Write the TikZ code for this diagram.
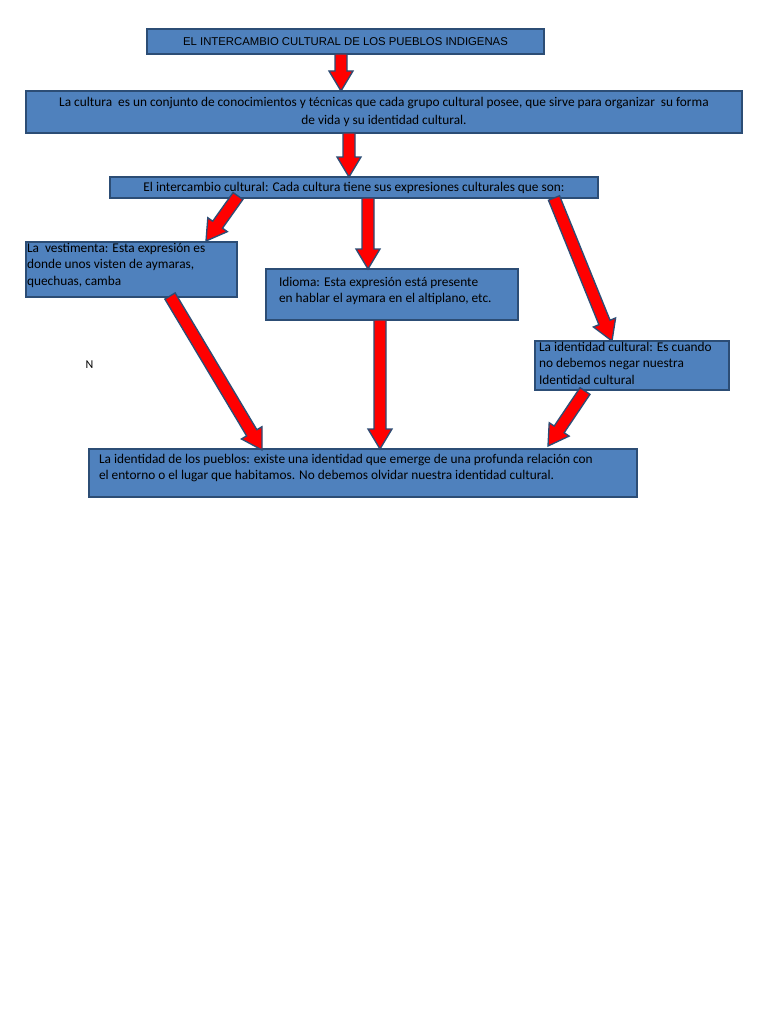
\documentclass[tikz,border=0pt]{standalone}
\usepackage{fontspec}
\setmainfont{Carlito}
\newfontfamily\titlefont{Liberation Sans}
\usetikzlibrary{calc}
\definecolor{boxfill}{HTML}{4F81BD}
\definecolor{boxline}{HTML}{2C4D75}
\tikzset{
 box/.style={draw=boxline,line width=1.5pt,fill=boxfill,inner sep=0pt},
 lbl/.style={font=\fontsize{10}{12.5}\selectfont,text=black,anchor=north west,align=left},
}
\newcommand{\fatarrow}[2]{%
 \path let \p1=(#1),\p2=(#2) in coordinate (fa) at (\p1) coordinate (fb) at (\p2);
 \coordinate (fh) at ($(fb)!15pt!(fa)$);
 \filldraw[fill=red,draw=boxline,line width=1pt,line join=miter]
 ($(fa)!4.5pt!90:(fb)$) -- ($(fh)!4.5pt!-90:(fa)$) -- ($(fh)!9pt!-90:(fa)$) -- (fb)
 -- ($(fh)!9pt!90:(fa)$) -- ($(fh)!4.5pt!90:(fa)$) -- ($(fa)!4.5pt!-90:(fb)$) -- cycle;}
\begin{document}
\begin{tikzpicture}[x=0.75pt,y=-0.75pt]
\useasboundingbox[fill=white] (0,0) rectangle (768,1024);
\node[box,minimum width=397*0.75pt,minimum height=25*0.75pt,font=\titlefont\fontsize{8.5}{10}\selectfont] (t) at (345.5,41.5) {EL INTERCAMBIO CULTURAL DE LOS PUEBLOS INDIGENAS};
\node[box,minimum width=716*0.75pt,minimum height=42*0.75pt,align=center,font=\fontsize{10}{14}\selectfont] (c) at (384,112) {La cultura~ es un conjunto de conocimientos y técnicas que cada grupo cultural posee, que sirve para organizar~ su forma\\de vida y su identidad cultural.};
\node[box,minimum width=488*0.75pt,minimum height=21*0.75pt,font=\fontsize{10}{12}\selectfont] (i) at (354,187.5) {El intercambio cultural: Cada cultura tiene sus expresiones culturales que son:};
\path[box] (26,242) rectangle (237,297) node[pos=0,lbl] (v) at (34,243) {La~ vestimenta: Esta expresión es\\donde unos visten de aymaras,\\quechuas, camba};
\path[box] (266,269) rectangle (518,320) node[lbl] (d) at (278,276) {Idioma: Esta expresión está presente\\en hablar el aymara en el altiplano, etc.};
\path[box] (535,341) rectangle (729,390) node[lbl] (ic) at (538,341) {La identidad cultural: Es cuando\\no debemos negar nuestra\\Identidad cultural};
\path[box] (89,449) rectangle (637,497) node[lbl] (b) at (98,453) {La identidad de los pueblos: existe una identidad que emerge de una profunda relación con\\el entorno o el lugar que habitamos. No debemos olvidar nuestra identidad cultural.};
\node[font=\fontsize{9}{10}\selectfont,anchor=west] (n) at (81,365) {N};
\coordinate (a1) at (341,54); \coordinate (b1) at (341,91);
\coordinate (a2) at (349,133); \coordinate (b2) at (349,177);
\coordinate (a3) at (238,196); \coordinate (b3) at (206,241);
\coordinate (a4) at (368,198); \coordinate (b4) at (368,269);
\coordinate (a5) at (554,198); \coordinate (b5) at (612,341);
\coordinate (a6) at (170,296); \coordinate (b6) at (262,450);
\coordinate (a7) at (380,320); \coordinate (b7) at (380,449);
\coordinate (a8) at (585,391); \coordinate (b8) at (548,446);
\fatarrow{a1}{b1}\fatarrow{a2}{b2}\fatarrow{a3}{b3}\fatarrow{a4}{b4}
\fatarrow{a5}{b5}\fatarrow{a6}{b6}\fatarrow{a7}{b7}\fatarrow{a8}{b8}
\end{tikzpicture}
\end{document}
